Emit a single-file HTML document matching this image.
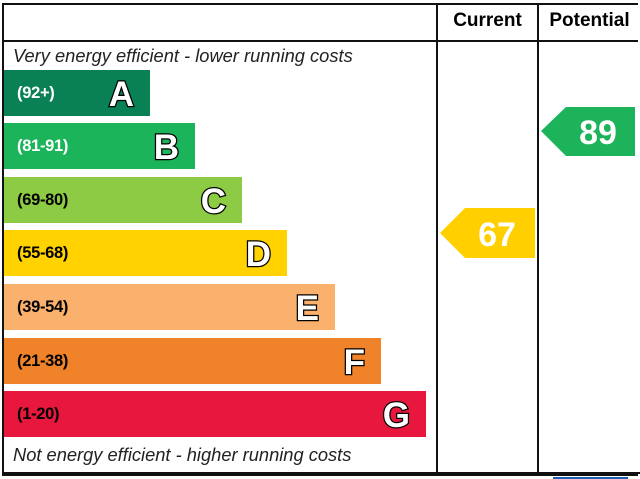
<!DOCTYPE html>
<html><head><style>
body{margin:0;width:640px;height:479px;background:#fff;position:relative;overflow:hidden;font-family:"Liberation Sans",Arial,sans-serif}
.a{position:absolute}
.bar{position:absolute;left:4px;height:46px}
.rng{position:absolute;left:13px;top:14px;font-weight:bold;font-size:16.5px;color:#fff;letter-spacing:-0.3px}
.let{position:absolute;right:16px;top:5px;font-weight:bold;font-size:35px;color:#fff;-webkit-text-stroke:2.5px #000;paint-order:stroke fill}
.hd{position:absolute;top:10px;font-weight:bold;font-size:19px;color:#000;text-align:center}
.it{position:absolute;left:13px;font-style:italic;font-size:18.3px;color:#222}
</style></head><body>
<div class="a" style="left:2px;top:3px;width:634px;height:469px;border:2px solid #111;border-right:none"></div>
<div class="a" style="left:2px;top:40px;width:636px;height:2px;background:#111"></div>
<div class="a" style="left:436px;top:3px;width:2px;height:471px;background:#111"></div>
<div class="a" style="left:537px;top:3px;width:2px;height:471px;background:#111"></div>
<div class="a" style="left:2px;top:472px;width:638px;height:2px;background:#111"></div>
<div class="a" style="left:553px;top:477px;width:75px;height:2px;background:#1d5fb0"></div>
<div class="hd" style="left:438px;width:99px">Current</div>
<div class="hd" style="left:539px;width:101px">Potential</div>
<div class="it" style="top:45px">Very energy efficient - lower running costs</div>
<div class="it" style="top:444px">Not energy efficient - higher running costs</div>
<div class="bar" style="top:70px;width:146px;background:#0a8055"><span class="rng">(92+)</span><span class="let">A</span></div>
<div class="bar" style="top:123px;width:191px;background:#1cb45a"><span class="rng">(81-91)</span><span class="let">B</span></div>
<div class="bar" style="top:177px;width:238px;background:#8dcb44"><span class="rng" style="color:#000">(69-80)</span><span class="let">C</span></div>
<div class="bar" style="top:230px;width:283px;background:#ffd200"><span class="rng" style="color:#000">(55-68)</span><span class="let">D</span></div>
<div class="bar" style="top:284px;width:331px;background:#fbb16e"><span class="rng" style="color:#000">(39-54)</span><span class="let">E</span></div>
<div class="bar" style="top:338px;width:377px;background:#f0822a"><span class="rng" style="color:#000">(21-38)</span><span class="let">F</span></div>
<div class="bar" style="top:391px;width:422px;background:#e8173d"><span class="rng" style="color:#000">(1-20)</span><span class="let">G</span></div>
<svg class="a" style="left:0;top:0" width="640" height="479">
<polygon points="440,233 465,208 535,208 535,258 465,258" fill="#ffcf00"/>
<text x="497" y="246" font-family="Liberation Sans" font-weight="bold" font-size="34" fill="#fff" text-anchor="middle">67</text>
<polygon points="541,131 566,107 635,107 635,156 566,156" fill="#1db35a"/>
<text x="598" y="144" font-family="Liberation Sans" font-weight="bold" font-size="34" fill="#fff" text-anchor="middle">89</text>
</svg>
</body></html>
